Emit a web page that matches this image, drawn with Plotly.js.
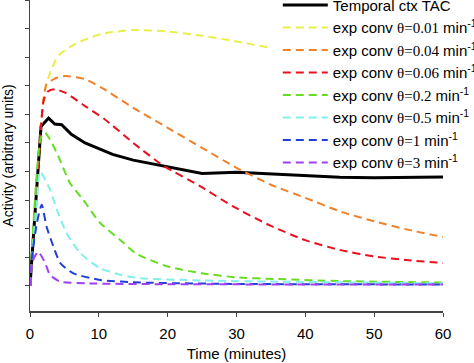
<!DOCTYPE html>
<html>
<head>
<meta charset="utf-8">
<script src="https://cdn.plot.ly/plotly-3.0.1.min.js"></script>
<style>html,body{margin:0;padding:0;background:#fff;overflow:hidden;}#chart{width:474px;height:363px;}</style>
</head>
<body>
<div id="chart"></div>
<script>
// Temporal cortex TAC (black)
const tacT = [0, 1.6, 2.7, 3.6, 4.6, 6, 8, 10, 12, 15, 19, 22, 25, 30, 35, 40, 45, 50, 55, 60];
const tacY = [0, 5.58, 5.87, 5.66, 5.64, 5.3, 5.0, 4.8, 4.6, 4.4, 4.22, 4.08, 3.93, 3.98, 3.92, 3.85, 3.8, 3.78, 3.8, 3.81];

// exp conv θ=0.01
const t001 = [0, 1.6, 2.2, 3, 4.1, 6.5, 10.5, 15, 20, 25, 30, 35];
const y001 = [0, 5.6, 6.88, 7.5, 8.05, 8.46, 8.82, 8.95, 8.9, 8.75, 8.55, 8.32];

// exp conv θ=0.04
const t004 = [0, 1.6, 2.0, 2.4, 3.6, 5.1, 8, 10.5, 15, 20, 25, 30, 35, 40, 45, 50, 55, 60];
const y004 = [0, 5.6, 6.6, 7.05, 7.25, 7.34, 7.23, 6.92, 6.23, 5.53, 4.83, 4.13, 3.54, 3.08, 2.61, 2.26, 1.96, 1.71];

// exp conv θ=0.06
const t006 = [0, 1.6, 2.0, 2.6, 3.6, 5.1, 8, 10.8, 15, 19.4, 24.7, 29.5, 35, 40, 45, 50, 55, 60];
const y006 = [0, 5.6, 6.5, 6.8, 6.88, 6.76, 6.29, 5.84, 5.0, 4.2, 3.49, 2.78, 2.1, 1.6, 1.26, 1.03, 0.9, 0.8];

// exp conv θ=0.2
const t02 = [0, 1.6, 2.2, 3.9, 5.8, 7.7, 10.2, 13.1, 15.5, 20, 25, 30, 36, 45, 60];
const y02 = [0, 5.2, 5.36, 4.65, 3.6, 3.02, 2.2, 1.61, 1.12, 0.68, 0.44, 0.3, 0.24, 0.17, 0.12];

// exp conv θ=0.5
const t05 = [0, 0.5, 1.0, 1.45, 2.9, 3.9, 5.3, 7.3, 10.2, 13.1, 16, 25, 36, 60];
const y05 = [0, 1.6, 2.9, 4.0, 3.37, 2.67, 1.85, 1.15, 0.62, 0.39, 0.27, 0.19, 0.15, 0.09];

// exp conv θ=1
const t1 = [0, 0.3, 1.0, 1.7, 2.4, 3.4, 4.4, 6.3, 10.2, 16, 30, 60];
const y1 = [0, 1.05, 2.2, 2.84, 2.08, 1.38, 0.8, 0.44, 0.21, 0.12, 0.07, 0.05];

// exp conv θ=3
const t3 = [0, 0.3, 0.7, 1.2, 2.2, 2.9, 4.4, 8.2, 20, 60];
const y3 = [0, 0.8, 1.03, 1.2, 0.8, 0.39, 0.15, 0.09, 0.06, 0.05];

const thetaLabels = ['0.01', '0.04', '0.06', '0.2', '0.5', '1', '3'];
const colors = ['#e8f048', '#f0802a', '#e8101e', '#66dd22', '#80f0e8', '#2040d8', '#a040f0'];
const series = [[t001, y001], [t004, y004], [t006, y006], [t02, y02], [t05, y05], [t1, y1], [t3, y3]];

const traces = [{
  x: tacT, y: tacY, mode: 'lines', name: 'Temporal ctx TAC',
  line: {color: '#000000', width: 3}
}];
series.forEach((s, i) => {
  traces.push({
    x: s[0], y: s[1], mode: 'lines',
    name: 'exp conv <span style="font-family:Liberation Serif">\u03b8=' + thetaLabels[i] + '</span> min<sup>-1</sup>',
    line: {color: colors[i], width: 2, dash: '8px,5px', shape: 'spline', smoothing: 0.6}
  });
});

const layout = {
  width: 474, height: 363,
  margin: {l: 30, r: 31, t: 0, b: 52, autoexpand: false},
  paper_bgcolor: '#ffffff', plot_bgcolor: '#ffffff',
  font: {family: '"Liberation Sans", Arial, sans-serif', size: 15, color: '#000'},
  showlegend: true,
  legend: {
    x: 0.6, y: 1.036, xanchor: 'left', yanchor: 'top',
    bgcolor: 'rgba(0,0,0,0)', borderwidth: 0,
    font: {size: 15, color: '#000'}, tracegroupgap: 0, itemwidth: 45
  },
  xaxis: {
    range: [0, 60], tickvals: [0, 10, 20, 30, 40, 50, 60],
    showgrid: false, zeroline: false, showline: true, linecolor: '#444', linewidth: 1.5,
    ticks: 'outside', ticklen: 4, tickcolor: '#444', tickwidth: 1,
    tickfont: {size: 15}, ticklabelstandoff: 4,
    title: {text: 'Time (minutes)', font: {size: 15}, standoff: 8}
  },
  yaxis: {
    range: [-0.877, 10.0], tickvals: [0, 1, 2, 3, 4, 5, 6, 7, 8, 9, 10],
    showticklabels: false,
    showgrid: false, zeroline: false, showline: true, linecolor: '#444', linewidth: 1.5,
    ticks: 'outside', ticklen: 4, tickcolor: '#444', tickwidth: 1,
    title: {text: 'Activity (arbitrary units)', font: {size: 14}, standoff: 8}
  }
};

Plotly.newPlot('chart', traces, layout, {displayModeBar: false, staticPlot: true});
</script>
</body>
</html>
